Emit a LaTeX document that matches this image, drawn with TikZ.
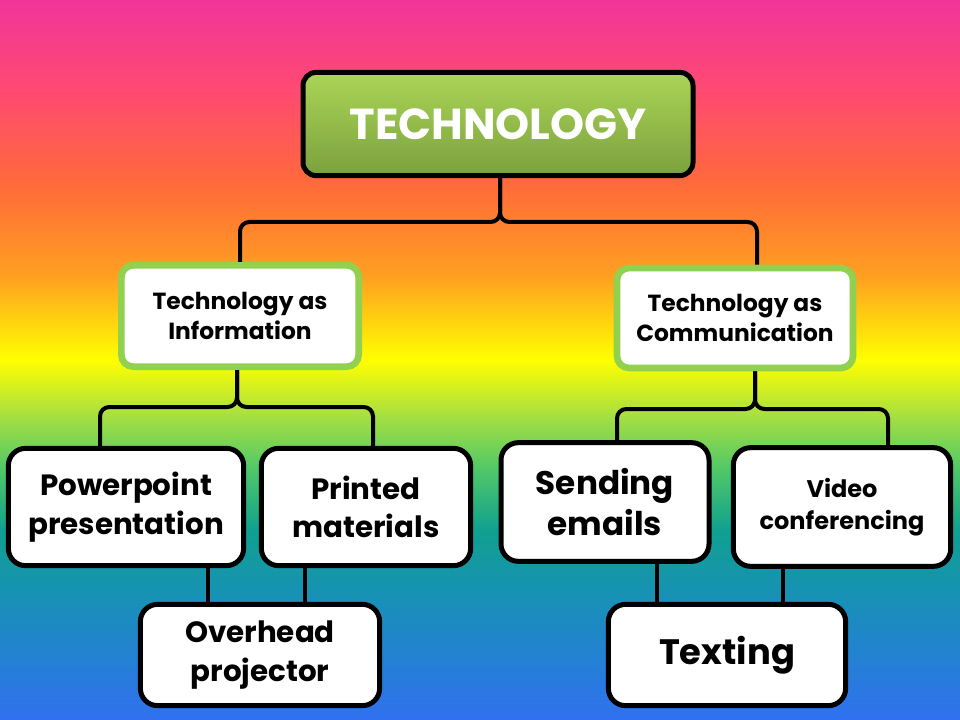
\documentclass[tikz,border=0pt]{standalone}
\usepackage{fontspec}
\setmainfont{Poppins}
\usetikzlibrary{positioning}
\definecolor{bgpink}{HTML}{F0359A}
\definecolor{bgrose}{HTML}{FF4A70}
\definecolor{bgred}{HTML}{FF6A3A}
\definecolor{bgorange}{HTML}{FFA020}
\definecolor{bgyellow}{HTML}{FFFF00}
\definecolor{bglime}{HTML}{A8E040}
\definecolor{bggreen}{HTML}{50C868}
\definecolor{bgteal}{HTML}{10A090}
\definecolor{bgcyan}{HTML}{1890B8}
\definecolor{bgblue}{HTML}{3070F0}
\definecolor{topgreen}{HTML}{ABD556}
\definecolor{botgreen}{HTML}{7BA13E}
\definecolor{midgreen}{HTML}{92D050}
\pgfdeclareverticalshading{rainbow}{100bp}{color(0bp)=(bgblue); color(25bp)=(bgblue); color(33.3bp)=(bgcyan); color(38.2bp)=(bgteal); color(42.4bp)=(bggreen); color(46.2bp)=(bglime); color(50bp)=(bgyellow); color(55.8bp)=(bgorange); color(62.2bp)=(bgred); color(68.6bp)=(bgrose); color(75bp)=(bgpink); color(100bp)=(bgpink)}
\tikzset{
    mynodet/.style = {rectangle, rounded corners=10pt, line width=3.75pt, draw=black, top color=topgreen, bottom color=botgreen, inner sep=0pt, align=center, text=white, font=\bfseries\fontsize{32.5}{38}\selectfont},
    mynodeg/.style = {rectangle, rounded corners=9pt, line width=5pt, draw=midgreen, fill=white, inner sep=0pt, align=center, text=black, font=\bfseries\fontsize{17.5}{23}\selectfont},
    mynodew/.style = {rectangle, rounded corners=13pt, line width=3.75pt, draw=black, fill=white, inner sep=0pt, align=center, text=black},
    edgen/.style = {-, line width=3pt, black, rounded corners=7pt}
}
\begin{document}
\begin{tikzpicture}[x=0.75pt, y=-0.75pt]
  \useasboundingbox (0,0) rectangle (960,720);
  \fill[shading=rainbow] (0,0) rectangle (960,720);
  \node[mynodet, minimum width=292.5pt, minimum height=77.5pt] (tech) at (498,124) {TECHNOLOGY};
  \node[mynodeg, minimum width=178pt, minimum height=76pt] (info) at (240,316) {Technology as\\Information};
  \node[mynodeg, minimum width=177pt, minimum height=75pt] (comm) at (735,318) {Technology as\\Communication};
  \node[mynodew, minimum width=176.5pt, minimum height=88pt, font=\bfseries\fontsize{22}{29}\selectfont] (ppt) at (126,507) {Powerpoint\\presentation};
  \node[mynodew, minimum width=157pt, minimum height=88pt, font=\bfseries\fontsize{22}{29}\selectfont] (print) at (366,507) {Printed\\materials};
  \node[mynodew, minimum width=179.5pt, minimum height=76pt, font=\bfseries\fontsize{22}{29}\selectfont] (over) at (260,655) {Overhead\\projector};
  \node[mynodew, minimum width=156pt, minimum height=89pt, font=\bfseries\fontsize{24.5}{31}\selectfont] (send) at (605,502) {Sending\\emails};
  \node[mynodew, minimum width=163pt, minimum height=89pt, font=\bfseries\fontsize{18}{24}\selectfont] (video) at (842,507) {Video\\conferencing};
  \node[mynodew, minimum width=178pt, minimum height=76pt, font=\bfseries\fontsize{26.5}{32}\selectfont] (text) at (727,655) {Texting};
  \coordinate (tj) at (500,222);
  \coordinate (ij) at (237,407);
  \coordinate (cj) at (755,409);
  \draw[edgen] (info.north) |- (tj) -- (tj |- tech.south);
  \draw[edgen] ([xshift=16.5pt]comm.north) |- (tj) -- (tj |- tech.south);
  \draw[edgen] ([xshift=-19.5pt]ppt.north) |- (ij) -- (ij |- info.south);
  \draw[edgen] ([xshift=5.25pt]print.north) |- (ij) -- (ij |- info.south);
  \draw[edgen] ([xshift=9pt]send.north) |- (cj) -- (cj |- comm.south);
  \draw[edgen] ([xshift=34.5pt]video.north) |- (cj) -- (cj |- comm.south);
  \draw[edgen] ([xshift=-39pt]over.north) -- ([xshift=-39pt]over.north |- ppt.south);
  \draw[edgen] ([xshift=33.75pt]over.north) -- ([xshift=33.75pt]over.north |- print.south);
  \draw[edgen] ([xshift=-52.5pt]text.north) -- ([xshift=-52.5pt]text.north |- send.south);
  \draw[edgen] ([xshift=42pt]text.north) -- ([xshift=42pt]text.north |- video.south);
\end{tikzpicture}
\end{document}
